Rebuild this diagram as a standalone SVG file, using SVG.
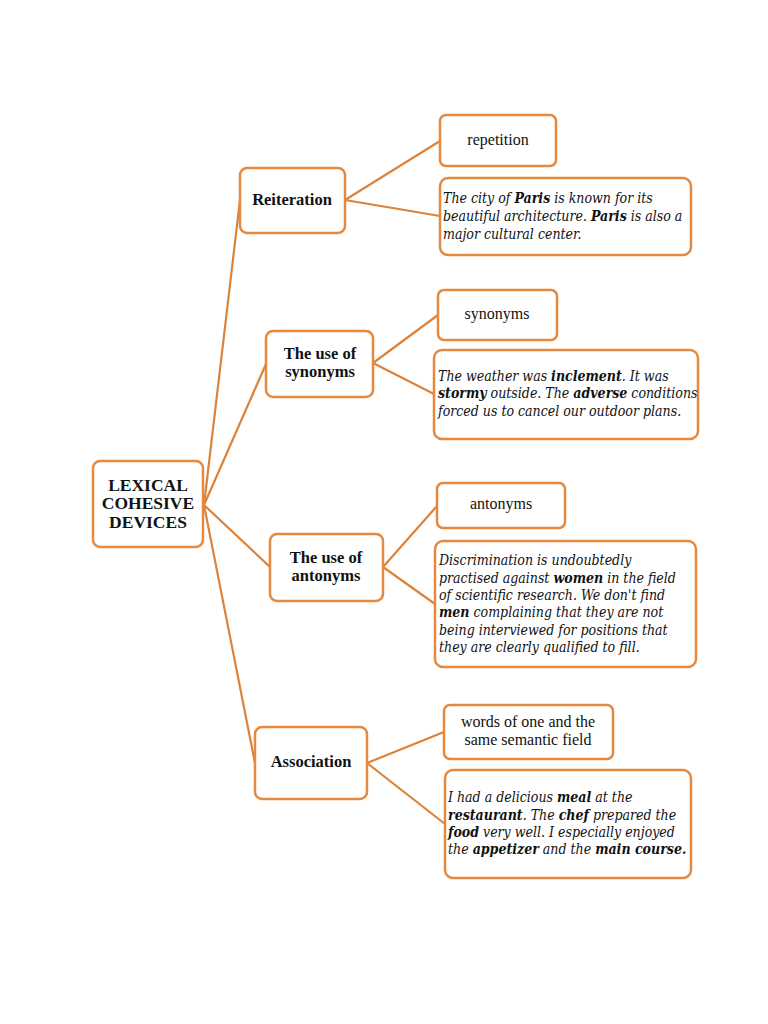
<svg xmlns="http://www.w3.org/2000/svg" width="768" height="1024" viewBox="0 0 768 1024">
<style>
.box{fill:#fff;stroke:#E5893F;stroke-width:2.5}
.ln{stroke:#DC8339;stroke-width:2.2;fill:none}
.t{font-family:"Liberation Serif",serif;font-size:16px;fill:#111;text-anchor:middle}
.b{font-weight:bold;font-size:16.5px}
.r{font-size:17.5px}
.ex{font-family:"DejaVu Serif",serif;font-stretch:condensed;font-size:14px;font-style:italic;fill:#111}
</style>
<rect width="768" height="1024" fill="#fff"/>
<g id="connectors">
<path class="ln" d="M204 505 L240 200 M204 505 L266 364 M204 505 L270 567 M204 505 L255 763"/>
<path class="ln" d="M345 200 L440 141 M345 200 L440 216"/>
<path class="ln" d="M373 363 L438 315 M373 363 L434 394"/>
<path class="ln" d="M383 567 L437 506 M383 567 L435 604"/>
<path class="ln" d="M367 763 L444 732 M367 763 L445 824"/>
</g>
<g id="root"><rect class="box" x="93" y="461" width="110" height="86" rx="7"/>
<text class="t b r" x="148" y="491">LEXICAL</text>
<text class="t b r" x="148" y="509">COHESIVE</text>
<text class="t b r" x="148" y="528">DEVICES</text></g>
<g id="reiteration"><rect class="box" x="240" y="168" width="105" height="65" rx="7"/>
<text class="t b" x="292" y="205">Reiteration</text></g>
<g id="synonyms-node"><rect class="box" x="266" y="331" width="107" height="66" rx="7"/>
<text class="t b" x="320" y="359">The use of</text><text class="t b" x="320" y="377">synonyms</text></g>
<g id="antonyms-node"><rect class="box" x="270" y="534" width="113" height="67" rx="7"/>
<text class="t b" x="326" y="563">The use of</text><text class="t b" x="326" y="581">antonyms</text></g>
<g id="association"><rect class="box" x="255" y="727" width="112" height="72" rx="7"/>
<text class="t b" x="311" y="767">Association</text></g>
<g id="repetition"><rect class="box" x="440" y="115" width="116" height="51" rx="6"/>
<text class="t" x="498" y="145">repetition</text></g>
<g id="ex-repetition"><rect class="box" x="440" y="178" width="251" height="77" rx="8"/>
<text class="ex" x="443" y="203">The city of <tspan font-weight="bold">Paris</tspan> is known for its</text>
<text class="ex" x="443" y="221">beautiful architecture. <tspan font-weight="bold">Paris</tspan> is also a</text>
<text class="ex" x="443" y="239">major cultural center.</text></g>
<g id="synonyms"><rect class="box" x="438" y="290" width="119" height="50" rx="6"/>
<text class="t" x="497" y="319">synonyms</text></g>
<g id="ex-synonyms"><rect class="box" x="434" y="350" width="264" height="89" rx="8"/>
<text class="ex" x="438" y="381">The weather was <tspan font-weight="bold">inclement</tspan>. It was</text>
<text class="ex" x="438" y="398"><tspan font-weight="bold">stormy</tspan> outside. The <tspan font-weight="bold">adverse</tspan> conditions</text>
<text class="ex" x="438" y="416">forced us to cancel our outdoor plans.</text></g>
<g id="antonyms"><rect class="box" x="437" y="483" width="128" height="45" rx="6"/>
<text class="t" x="501" y="509">antonyms</text></g>
<g id="ex-antonyms"><rect class="box" x="435" y="541" width="261" height="126" rx="8"/>
<text class="ex" x="439" y="565">Discrimination is undoubtedly</text>
<text class="ex" x="439" y="583">practised against <tspan font-weight="bold">women</tspan> in the field</text>
<text class="ex" x="439" y="600">of scientific research. We don't find</text>
<text class="ex" x="439" y="617"><tspan font-weight="bold">men</tspan> complaining that they are not</text>
<text class="ex" x="439" y="635">being interviewed for positions that</text>
<text class="ex" x="439" y="652">they are clearly qualified to fill.</text></g>
<g id="semantic-field"><rect class="box" x="444" y="705" width="169" height="54" rx="6"/>
<text class="t" x="528" y="727">words of one and the</text>
<text class="t" x="528" y="745">same semantic field</text></g>
<g id="ex-association"><rect class="box" x="445" y="770" width="246" height="108" rx="8"/>
<text class="ex" x="448" y="802">I had a delicious <tspan font-weight="bold">meal</tspan> at the</text>
<text class="ex" x="448" y="820"><tspan font-weight="bold">restaurant</tspan>. The <tspan font-weight="bold">chef</tspan> prepared the</text>
<text class="ex" x="448" y="837"><tspan font-weight="bold">food</tspan> very well. I especially enjoyed</text>
<text class="ex" x="448" y="854">the <tspan font-weight="bold">appetizer</tspan> and the <tspan font-weight="bold">main course.</tspan></text></g>
</svg>
